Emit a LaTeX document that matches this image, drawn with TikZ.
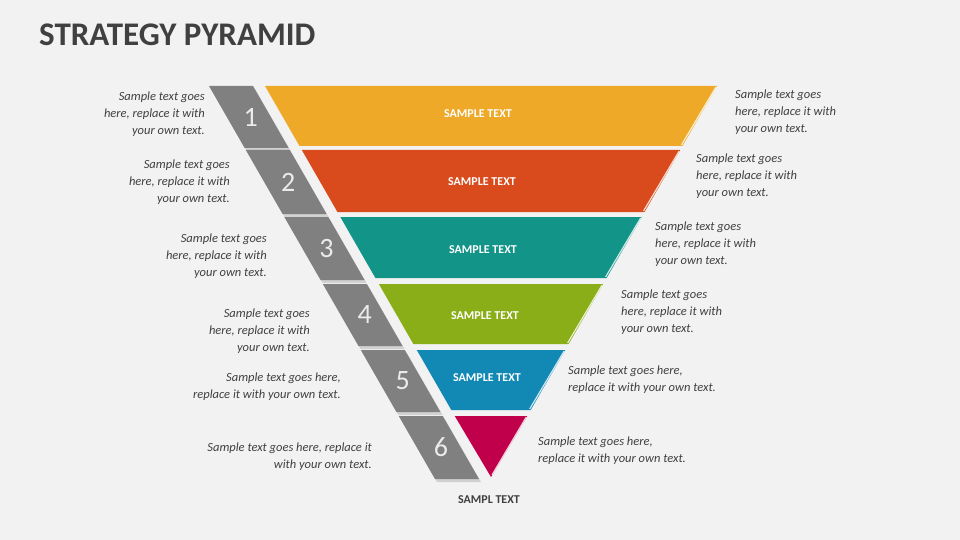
\documentclass[tikz,border=0pt]{standalone}
\usepackage{fontspec}
\setmainfont{Carlito}
\definecolor{bg}{HTML}{F2F2F2}
\definecolor{band}{HTML}{808080}
\definecolor{txt}{HTML}{404040}
\definecolor{c1}{HTML}{EEA928}
\definecolor{c2}{HTML}{D94B1C}
\definecolor{c3}{HTML}{139488}
\definecolor{c4}{HTML}{8AAE17}
\definecolor{c5}{HTML}{1189B4}
\definecolor{c6}{HTML}{C0004B}
\tikzset{
  side/.style={font=\fontsize{12.5}{16.7}\selectfont\itshape, text=txt, inner sep=0pt},
  lab/.style={font=\fontsize{12}{14}\selectfont\bfseries, text=white, inner sep=0pt},
  num/.style={font=\fontsize{28}{30}\selectfont, text=white!92!black, inner sep=0pt},
}
\begin{document}
\begin{tikzpicture}[x=1pt,y=-1pt]
\fill[bg] (0,0) rectangle (960,540);
\useasboundingbox (0,0) rectangle (960,540);
\node[anchor=west, font=\fontsize{33}{36}\selectfont\bfseries, text=txt, inner sep=0pt] (title) at (39,35) {STRATEGY PYRAMID};
\foreach \i/\ta/\tb/\col in {1/86/146/c1,2/150/212/c2,3/217/278/c3,4/284/344/c4,5/350/410/c5,6/416/477/c6}{
  \pgfmathsetmacro{\La}{265+0.575*(\ta-86)}
  \pgfmathsetmacro{\Lb}{265+0.575*(\tb-86)}
  \pgfmathsetmacro{\Ra}{717-0.575*(\ta-86)}
  \pgfmathsetmacro{\Rb}{717-0.575*(\tb-86)}
  \pgfmathsetmacro{\Bb}{\tb+2}
  \pgfmathsetmacro{\Gb}{265+0.575*(\Bb-86)}
  % band shadow
  \fill[black!30, opacity=0.5] (\La-56+2,\ta+3) -- (\La-12+2,\ta+3) -- (\Gb-12+2,\Bb+3) -- (\Gb-56+2,\Bb+3) -- cycle;
  \fill[band] (\La-56,\ta) -- (\La-12,\ta) -- (\Gb-12,\Bb) -- (\Gb-56,\Bb) -- cycle;
  \pgfmathsetmacro{\cy}{(\ta+\Bb)/2}
  \pgfmathsetmacro{\cx}{265+0.575*(\cy-86)-32}
  \node[num] (n\i) at (\cx,\cy) {\i};
  % level
  \ifnum\i<6
    \fill[\col] (\La,\ta) -- (\Ra,\ta) -- (\Rb,\tb) -- (\Lb,\tb) -- cycle;
    \draw[white!80!\col, line width=1.2pt] (\Ra-1,\ta+1) -- (\Rb-1,\tb-1);
  \else
    \fill[\col] (\La,\ta) -- (\Ra,\ta) -- (491,\tb) -- cycle;
    \draw[white!80!\col, line width=1.2pt] (\Ra-1,\ta+1) -- (492,\tb-2);
  \fi
}
\node[lab] (l1) at (478,114) {SAMPLE TEXT};
\node[lab] (l2) at (482,182) {SAMPLE TEXT};
\node[lab] (l3) at (483,250) {SAMPLE TEXT};
\node[lab] (l4) at (485,316) {SAMPLE TEXT};
\node[lab] (l5) at (487,378) {SAMPLE TEXT};
\node[font=\fontsize{12}{14}\selectfont\bfseries, text=txt, inner sep=0pt] (bot) at (489,500) {SAMPL TEXT};
% left texts
\node[side, anchor=east, align=right] (a1) at (205,114) {Sample text goes\\here, replace it with\\your own text.};
\node[side, anchor=east, align=right] (a2) at (230,182) {Sample text goes\\here, replace it with\\your own text.};
\node[side, anchor=east, align=right] (a3) at (267,256) {Sample text goes\\here, replace it with\\your own text.};
\node[side, anchor=east, align=right] (a4) at (310,331) {Sample text goes\\here, replace it with\\your own text.};
\node[side, anchor=east, align=right] (a5) at (341,387) {Sample text goes here,\\replace it with your own text.};
\node[side, anchor=east, align=right] (a6) at (372,457) {Sample text goes here, replace it\\with your own text.};
% right texts
\node[side, anchor=west, align=left] (b1) at (735,112) {Sample text goes\\here, replace it with\\your own text.};
\node[side, anchor=west, align=left] (b2) at (696,176) {Sample text goes\\here, replace it with\\your own text.};
\node[side, anchor=west, align=left] (b3) at (655,244) {Sample text goes\\here, replace it with\\your own text.};
\node[side, anchor=west, align=left] (b4) at (621,312) {Sample text goes\\here, replace it with\\your own text.};
\node[side, anchor=west, align=left] (b5) at (568,380) {Sample text goes here,\\replace it with your own text.};
\node[side, anchor=west, align=left] (b6) at (538,451) {Sample text goes here,\\replace it with your own text.};
\end{tikzpicture}
\end{document}
